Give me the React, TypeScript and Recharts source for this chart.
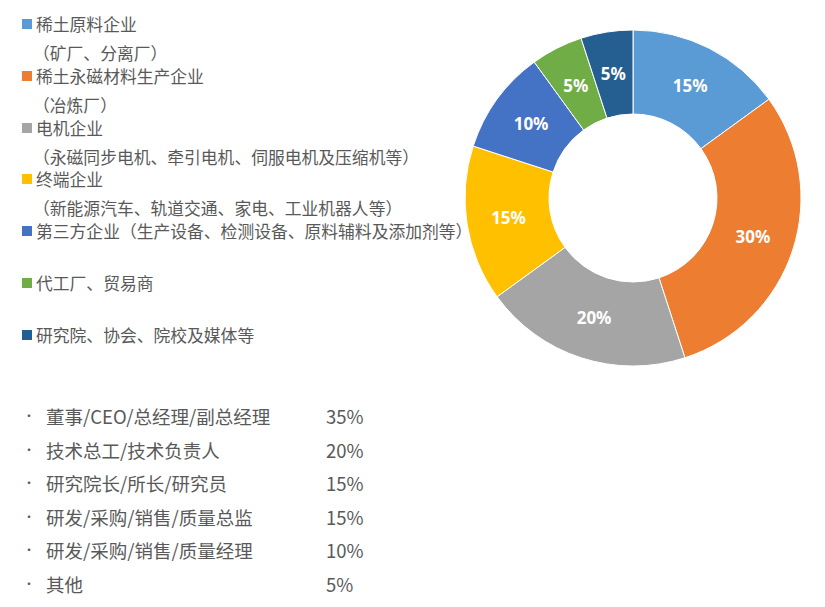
import { PieChart, Pie, Cell } from 'recharts';

const categories = [
  '稀土原料企业',
  '稀土永磁材料生产企业',
  '电机企业',
  '终端企业',
  '第三方企业（生产设备、检测设备、原料辅料及添加剂等）',
  '代工厂、贸易商',
  '研究院、协会、院校及媒体等',
];
const subNotes = [
  '（矿厂、分离厂）',
  '（冶炼厂）',
  '（永磁同步电机、牵引电机、伺服电机及压缩机等）',
  '（新能源汽车、轨道交通、家电、工业机器人等）',
  '',
  '',
  '',
];
const shares = [15, 30, 20, 15, 10, 5, 5];
const colors = ['#5B9BD5', '#ED7D31', '#A5A5A5', '#FFC000', '#4472C4', '#70AD47', '#255E91'];

const roles = [
  '董事/CEO/总经理/副总经理',
  '技术总工/技术负责人',
  '研究院长/所长/研究员',
  '研发/采购/销售/质量总监',
  '研发/采购/销售/质量经理',
  '其他',
];
const rolePercents = ['35%', '20%', '15%', '15%', '10%', '5%'];

const data = categories.map((name, i) => ({ name, value: shares[i] }));

const RAD = Math.PI / 180;
const font = '"Noto Sans CJK SC", "Noto Sans", sans-serif';

function renderLabel({ cx, cy, midAngle, innerRadius, outerRadius, value }: any) {
  const r = (innerRadius + outerRadius) / 2;
  const x = cx + r * Math.cos(-midAngle * RAD);
  const y = cy + r * Math.sin(-midAngle * RAD);
  return (
    <text x={x} y={y} fill="#fff" textAnchor="middle" dominantBaseline="central"
      style={{ fontFamily: '"Noto Sans", sans-serif', fontWeight: 700, fontSize: 17 }}>
      {value}%
    </text>
  );
}

export default function App() {
  return (
    <div style={{ position: 'absolute', left: 0, top: 0, width: 825, height: 607, background: '#fff', fontFamily: font, color: '#595959' }}>
      <PieChart width={825} height={607} margin={{ top: 0, right: 0, bottom: 0, left: 0 }}
        style={{ position: 'absolute', left: 0, top: 0 }}>
        <Pie data={data} dataKey="value" cx={633} cy={198} innerRadius={84} outerRadius={168}
          startAngle={90} endAngle={-270} stroke="#fff" strokeWidth={1}
          label={renderLabel} labelLine={false} isAnimationActive={false}>
          {data.map((_, i) => <Cell key={i} fill={colors[i]} />)}
        </Pie>
      </PieChart>

      {/* legend */}
      {categories.map((name, i) => (
        <div key={name} style={{ position: 'absolute', left: 22, top: 24 + i * 51.8 - 12, fontSize: 16.8, lineHeight: '24px' }}>
          <div style={{ display: 'flex', alignItems: 'center', whiteSpace: 'nowrap' }}>
            <span style={{ width: 10, height: 10, background: colors[i], display: 'inline-block', marginRight: 4 }} />
            <span>{name}</span>
          </div>
          {subNotes[i] && (
            <div style={{ marginTop: 5, paddingLeft: 11, whiteSpace: 'nowrap' }}>{subNotes[i]}</div>
          )}
        </div>
      ))}

      {/* respondent list */}
      {roles.map((role, i) => (
        <div key={role} style={{ position: 'absolute', left: 0, top: 416 + i * 33.6 - 13, fontSize: 18.5, lineHeight: '26px', whiteSpace: 'nowrap' }}>
          <span style={{ position: 'absolute', left: 23, fontSize: 12 }}>•</span>
          <span style={{ position: 'absolute', left: 46 }}>{role}</span>
          <span style={{ position: 'absolute', left: 326 }}>{rolePercents[i]}</span>
        </div>
      ))}
    </div>
  );
}
